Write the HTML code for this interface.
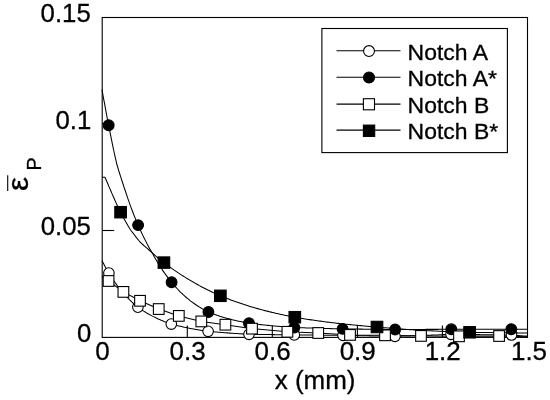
<!DOCTYPE html>
<html><head><meta charset="utf-8"><title>chart</title>
<style>
html,body{margin:0;padding:0;background:#fff;}
svg{display:block;}
text{font-family:"Liberation Sans",Arial,sans-serif;fill:#000;stroke:#000;stroke-width:0.3px;}
</style></head><body>
<svg width="550" height="400" viewBox="0 0 550 400">
<rect width="550" height="400" fill="#fff"/>

<rect x="102.2" y="17.5" width="425.3" height="319.9" fill="none" stroke="#000" stroke-width="1.1"/>
<line x1="187.3" y1="337.4" x2="187.3" y2="325.4" stroke="#000" stroke-width="1.1"/>
<line x1="272.3" y1="337.4" x2="272.3" y2="325.4" stroke="#000" stroke-width="1.1"/>
<line x1="357.4" y1="337.4" x2="357.4" y2="325.4" stroke="#000" stroke-width="1.1"/>
<line x1="442.4" y1="337.4" x2="442.4" y2="325.4" stroke="#000" stroke-width="1.1"/>
<line x1="102.2" y1="230.5" x2="114.2" y2="230.5" stroke="#000" stroke-width="1.1"/>
<line x1="102.2" y1="123.8" x2="114.2" y2="123.8" stroke="#000" stroke-width="1.1"/>
<g fill="none" stroke="#000" stroke-width="1.05" stroke-linejoin="round">
<path d="M102.0,260.70L103.4,263.36L104.8,265.92L106.1,268.40L107.5,270.79L108.9,273.10L110.4,275.47L111.8,277.75L113.2,279.94L114.7,282.06L116.2,284.10L117.6,286.07L119.1,287.97L120.5,289.80L122.0,291.56L123.4,293.26L124.9,294.89L126.3,296.47L127.8,297.99L129.2,299.46L130.7,300.87L132.1,302.23L133.6,303.54L135.0,304.81L136.4,306.03L137.9,307.20L139.4,308.23L140.8,309.23L142.3,310.20L143.7,311.14L145.2,312.04L146.6,312.92L148.1,313.76L149.5,314.58L151.0,315.37L152.4,316.13L153.9,316.87L155.3,317.59L156.8,318.28L158.2,318.95L159.7,319.59L161.1,320.22L162.6,320.82L164.0,321.41L165.5,321.97L166.9,322.52L168.4,323.05L169.8,323.56L171.3,324.05L172.8,324.45L174.2,324.83L175.7,325.21L177.2,325.57L178.7,325.93L180.1,326.27L181.6,326.61L183.1,326.94L184.5,327.26L186.0,327.56L187.5,327.86L189.0,328.16L190.4,328.44L191.9,328.72L193.4,328.99L194.9,329.25L196.3,329.50L197.8,329.75L199.3,329.99L200.7,330.22L202.2,330.45L203.7,330.67L205.2,330.89L206.6,331.10L208.1,331.30L209.6,331.44L211.0,331.57L212.5,331.70L213.9,331.83L215.4,331.96L216.9,332.09L218.3,332.21L219.8,332.33L221.2,332.45L222.7,332.56L224.2,332.67L225.6,332.79L227.1,332.89L228.6,333.00L230.0,333.11L231.5,333.21L232.9,333.31L234.4,333.41L235.9,333.51L237.3,333.60L238.8,333.69L240.2,333.79L241.7,333.88L243.2,333.96L244.6,334.05L246.1,334.14L247.5,334.22L249.0,334.30L250.5,334.32L251.9,334.34L253.4,334.36L254.8,334.38L256.3,334.40L257.8,334.42L259.2,334.44L260.7,334.46L262.2,334.48L263.6,334.50L265.1,334.52L266.5,334.54L268.0,334.56L269.5,334.58L270.9,334.60L272.4,334.62L273.8,334.64L275.3,334.66L276.8,334.68L278.2,334.70L279.7,334.72L281.1,334.74L282.6,334.75L284.1,334.77L285.5,334.79L287.0,334.81L288.5,334.83L289.9,334.85L291.4,334.86L292.8,334.88L294.3,334.90L295.8,334.91L297.3,334.93L298.7,334.94L300.2,334.95L301.7,334.96L303.2,334.98L304.6,334.99L306.1,335.00L307.6,335.01L309.1,335.03L310.5,335.04L312.0,335.05L313.5,335.06L315.0,335.08L316.4,335.09L317.9,335.10L319.4,335.11L320.9,335.12L322.3,335.14L323.8,335.15L325.3,335.16L326.8,335.17L328.2,335.18L329.7,335.20L331.2,335.21L332.7,335.22L334.1,335.23L335.6,335.24L337.1,335.25L338.6,335.27L340.0,335.28L341.5,335.29L343.0,335.30L344.5,335.33L346.0,335.37L347.5,335.40L348.9,335.43L350.4,335.47L351.9,335.50L353.4,335.53L354.9,335.56L356.4,335.59L357.9,335.62L359.3,335.66L360.8,335.69L362.3,335.72L363.8,335.75L365.3,335.77L366.8,335.80L368.3,335.83L369.7,335.86L371.2,335.89L372.7,335.92L374.2,335.94L375.7,335.97L377.2,336.00L378.7,336.03L380.1,336.05L381.6,336.08L383.1,336.10L384.6,336.13L386.1,336.15L387.6,336.18L389.1,336.20L390.5,336.23L392.0,336.25L393.5,336.28L395.0,336.30L396.5,336.26L397.9,336.22L399.4,336.18L400.9,336.15L402.4,336.10L403.8,336.06L405.3,336.02L406.8,335.98L408.3,335.94L409.7,335.89L411.2,335.85L412.7,335.80L414.2,335.76L415.6,335.71L417.1,335.66L418.6,335.61L420.1,335.56L421.5,335.51L423.0,335.46L424.5,335.41L425.9,335.36L427.4,335.30L428.9,335.25L430.4,335.19L431.8,335.13L433.3,335.08L434.8,335.02L436.3,334.96L437.7,334.90L439.2,334.83L440.7,334.77L442.2,334.71L443.6,334.64L445.1,334.58L446.6,334.51L448.1,334.44L449.5,334.37L451.0,334.30L452.5,334.32L454.0,334.34L455.4,334.36L456.9,334.37L458.4,334.39L459.9,334.41L461.3,334.43L462.8,334.45L464.3,334.46L465.8,334.48L467.2,334.50L468.7,334.52L470.2,334.54L471.7,334.55L473.1,334.57L474.6,334.59L476.1,334.61L477.6,334.62L479.0,334.64L480.5,334.66L482.0,334.67L483.5,334.69L484.9,334.71L486.4,334.73L487.9,334.74L489.4,334.76L490.8,334.78L492.3,334.79L493.8,334.81L495.3,334.82L496.7,334.84L498.2,334.86L499.7,334.87L501.2,334.89L502.6,334.91L504.1,334.92L505.6,334.94L507.1,334.95L508.5,334.97L510.0,334.98L511.5,335.00L513.0,335.13L514.4,335.26L515.9,335.38L517.3,335.50L518.8,335.61L520.2,335.72L521.7,335.82L523.1,335.92L524.6,336.02L526.0,336.11L527.5,336.20"/>
<path d="M102.0,89.50L103.3,97.10L104.7,104.47L106.0,111.60L107.3,118.51L108.7,125.20L110.0,132.04L111.3,138.66L112.6,145.06L113.9,151.24L115.2,157.22L116.5,163.00L117.9,167.83L119.3,172.53L120.8,177.09L122.2,181.52L123.6,185.82L125.0,190.00L126.5,194.41L127.9,198.69L129.4,202.83L130.8,206.84L132.3,210.73L133.7,214.49L135.2,218.14L136.6,221.68L138.1,225.10L139.6,228.46L141.1,231.71L142.6,234.86L144.1,237.91L145.6,240.87L147.0,243.73L148.5,246.50L150.0,249.18L151.5,251.78L153.0,254.30L154.4,256.92L155.9,259.45L157.3,261.89L158.7,264.25L160.2,266.53L161.6,268.73L163.0,270.86L164.4,272.92L165.9,274.91L167.3,276.82L168.7,278.68L170.2,280.47L171.6,282.20L173.1,284.00L174.5,285.73L176.0,287.39L177.5,289.00L179.0,290.55L180.4,292.04L181.9,293.48L183.4,294.86L184.8,296.20L186.3,297.48L187.8,298.72L189.3,299.91L190.7,301.06L192.2,302.17L193.7,303.24L195.2,304.27L196.6,305.26L198.1,306.22L199.6,307.14L201.0,308.03L202.5,308.88L204.0,309.70L205.5,310.50L206.9,311.26L208.4,312.00L209.8,312.59L211.3,313.15L212.8,313.71L214.2,314.24L215.7,314.76L217.1,315.26L218.6,315.75L220.0,316.22L221.5,316.68L222.9,317.13L224.3,317.56L225.8,317.98L227.2,318.38L228.7,318.78L230.2,319.16L231.6,319.53L233.1,319.89L234.5,320.24L235.9,320.58L237.4,320.91L238.8,321.22L240.3,321.53L241.8,321.83L243.2,322.12L244.7,322.40L246.1,322.68L247.6,322.94L249.0,323.20L250.5,323.39L251.9,323.58L253.4,323.77L254.8,323.95L256.3,324.12L257.8,324.29L259.2,324.46L260.7,324.63L262.2,324.79L263.6,324.94L265.1,325.09L266.5,325.24L268.0,325.39L269.5,325.53L270.9,325.67L272.4,325.81L273.8,325.94L275.3,326.07L276.8,326.19L278.2,326.32L279.7,326.44L281.1,326.56L282.6,326.67L284.1,326.78L285.5,326.89L287.0,327.00L288.5,327.10L289.9,327.21L291.4,327.31L292.8,327.40L294.3,327.50L295.8,327.55L297.2,327.60L298.7,327.65L300.2,327.70L301.6,327.75L303.1,327.80L304.5,327.85L306.0,327.90L307.5,327.94L308.9,327.99L310.4,328.04L311.9,328.08L313.3,328.12L314.8,328.17L316.3,328.21L317.7,328.25L319.2,328.30L320.6,328.34L322.1,328.38L323.6,328.42L325.0,328.46L326.5,328.50L328.0,328.54L329.4,328.58L330.9,328.61L332.4,328.65L333.8,328.69L335.3,328.72L336.7,328.76L338.2,328.80L339.7,328.83L341.1,328.87L342.6,328.90L344.1,328.92L345.6,328.94L347.1,328.96L348.6,328.98L350.1,329.00L351.6,329.01L353.1,329.03L354.6,329.05L356.1,329.07L357.6,329.09L359.1,329.11L360.6,329.12L362.1,329.14L363.6,329.16L365.1,329.18L366.6,329.19L368.1,329.21L369.6,329.23L371.1,329.25L372.6,329.26L374.1,329.28L375.6,329.30L377.1,329.31L378.6,329.33L380.1,329.34L381.6,329.36L383.1,329.38L384.6,329.39L386.1,329.41L387.6,329.42L389.1,329.44L390.6,329.45L392.1,329.47L393.6,329.48L395.1,329.50L396.6,329.49L398.1,329.49L399.5,329.48L401.0,329.48L402.5,329.47L404.0,329.47L405.5,329.46L406.9,329.46L408.4,329.45L409.9,329.45L411.4,329.44L412.8,329.44L414.3,329.43L415.8,329.43L417.3,329.42L418.8,329.42L420.2,329.41L421.7,329.41L423.2,329.40L424.7,329.40L426.2,329.39L427.6,329.39L429.1,329.38L430.6,329.38L432.1,329.37L433.6,329.37L435.0,329.36L436.5,329.35L438.0,329.35L439.5,329.34L440.9,329.34L442.4,329.33L443.9,329.33L445.4,329.32L446.9,329.32L448.3,329.31L449.8,329.31L451.3,329.30L452.8,329.30L454.3,329.30L455.8,329.29L457.3,329.29L458.8,329.29L460.3,329.29L461.8,329.28L463.3,329.28L464.8,329.28L466.3,329.28L467.8,329.27L469.3,329.27L470.8,329.27L472.3,329.27L473.8,329.26L475.3,329.26L476.8,329.26L478.3,329.26L479.8,329.25L481.3,329.25L482.8,329.25L484.3,329.25L485.8,329.24L487.3,329.24L488.8,329.24L490.3,329.24L491.8,329.23L493.3,329.23L494.8,329.23L496.3,329.23L497.8,329.22L499.3,329.22L500.8,329.22L502.3,329.22L503.8,329.21L505.3,329.21L506.8,329.21L508.3,329.21L509.8,329.20L511.3,329.20L512.8,329.21L514.2,329.22L515.7,329.23L517.2,329.24L518.7,329.25L520.1,329.26L521.6,329.26L523.1,329.27L524.6,329.28L526.0,329.29L527.5,329.30"/>
<path d="M102.0,276.50L108.5,281.00L123.4,291.90L140.0,300.80L158.8,309.05L178.8,315.90L201.3,321.40L225.4,324.70L252.0,328.65L287.4,331.80L318.2,333.00L350.0,334.90L385.0,335.30L421.0,335.90L459.0,336.30L499.1,336.00L527.5,336.70"/>
<path d="M102,177.2L105.0,177.20L106.4,180.50L107.8,183.74L109.1,186.90L110.5,190.00L111.9,193.40L113.4,196.73L114.8,199.97L116.2,203.14L117.6,206.23L119.1,209.25L120.5,212.20L121.9,214.75L123.2,217.26L124.6,219.70L125.9,222.10L127.3,224.45L128.6,226.75L130.0,229.00L131.4,230.96L132.9,232.89L134.3,234.78L135.7,236.64L137.1,238.46L138.6,240.25L140.0,242.00L141.5,243.38L143.0,244.75L144.5,246.09L146.0,247.41L147.5,248.72L149.0,250.00L150.5,251.35L152.0,252.69L153.5,254.00L155.0,255.29L156.4,256.55L157.9,257.80L159.4,259.03L160.9,260.24L162.4,261.43L163.9,262.60L165.4,263.73L166.9,264.85L168.3,265.94L169.8,267.02L171.3,268.08L172.8,269.13L174.2,270.16L175.7,271.17L177.2,272.17L178.7,273.15L180.1,274.12L181.6,275.07L183.1,276.00L184.6,276.92L186.0,277.83L187.5,278.72L189.0,279.60L190.5,280.51L192.0,281.40L193.5,282.28L195.0,283.14L196.5,283.99L198.0,284.82L199.4,285.64L200.9,286.45L202.4,287.24L203.9,288.02L205.4,288.79L206.9,289.54L208.4,290.29L209.9,291.02L211.4,291.73L212.9,292.44L214.4,293.13L215.9,293.82L217.4,294.49L218.9,295.15L220.3,295.80L221.8,296.42L223.3,297.03L224.8,297.63L226.3,298.21L227.8,298.79L229.3,299.36L230.8,299.93L232.3,300.48L233.8,301.02L235.2,301.56L236.7,302.08L238.2,302.60L239.7,303.11L241.2,303.61L242.7,304.10L244.2,304.59L245.7,305.07L247.2,305.54L248.6,306.00L250.1,306.46L251.6,306.90L253.1,307.34L254.6,307.78L256.1,308.21L257.6,308.63L259.1,309.04L260.6,309.45L262.0,309.85L263.5,310.24L265.0,310.63L266.5,311.01L268.0,311.38L269.5,311.75L271.0,312.12L272.5,312.47L274.0,312.83L275.4,313.17L276.9,313.51L278.4,313.85L279.9,314.18L281.4,314.50L282.9,314.82L284.4,315.14L285.9,315.45L287.4,315.75L288.8,316.05L290.3,316.34L291.8,316.63L293.3,316.92L294.8,317.20L296.3,317.46L297.8,317.72L299.3,317.97L300.8,318.22L302.3,318.47L303.8,318.71L305.3,318.95L306.8,319.18L308.3,319.41L309.7,319.64L311.2,319.86L312.7,320.08L314.2,320.30L315.7,320.52L317.2,320.73L318.7,320.93L320.2,321.14L321.7,321.34L323.2,321.54L324.7,321.73L326.2,321.93L327.7,322.12L329.2,322.30L330.7,322.49L332.2,322.67L333.7,322.85L335.2,323.02L336.6,323.20L338.1,323.37L339.6,323.53L341.1,323.70L342.6,323.86L344.1,324.02L345.6,324.18L347.1,324.34L348.6,324.49L350.1,324.64L351.6,324.79L353.1,324.94L354.6,325.08L356.1,325.22L357.6,325.36L359.1,325.50L360.6,325.64L362.1,325.77L363.5,325.90L365.0,326.03L366.5,326.16L368.0,326.28L369.5,326.41L371.0,326.53L372.5,326.65L374.0,326.77L375.5,326.89L377.0,327.00L378.5,327.15L380.0,327.29L381.5,327.43L383.0,327.57L384.5,327.71L386.0,327.84L387.5,327.97L388.9,328.10L390.4,328.22L391.9,328.35L393.4,328.47L394.9,328.58L396.4,328.70L397.9,328.81L399.4,328.93L400.9,329.03L402.4,329.14L403.9,329.25L405.4,329.35L406.9,329.45L408.4,329.55L409.9,329.65L411.4,329.74L412.8,329.83L414.3,329.93L415.8,330.02L417.3,330.10L418.8,330.19L420.3,330.27L421.8,330.36L423.3,330.44L424.8,330.52L426.3,330.60L427.8,330.67L429.3,330.75L430.8,330.82L432.3,330.89L433.8,330.96L435.2,331.03L436.7,331.10L438.2,331.17L439.7,331.23L441.2,331.30L442.7,331.36L444.2,331.42L445.7,331.48L447.2,331.54L448.7,331.60L450.2,331.65L451.7,331.71L453.2,331.77L454.7,331.82L456.2,331.87L457.7,331.92L459.1,331.97L460.6,332.02L462.1,332.07L463.6,332.12L465.1,332.17L466.6,332.21L468.1,332.26L469.6,332.30L471.1,332.32L472.6,332.34L474.1,332.36L475.5,332.38L477.0,332.41L478.5,332.43L480.0,332.45L481.5,332.47L483.0,332.49L484.4,332.51L485.9,332.53L487.4,332.54L488.9,332.56L490.4,332.58L491.9,332.60L493.4,332.62L494.8,332.64L496.3,332.66L497.8,332.67L499.3,332.69L500.8,332.71L502.3,332.73L503.7,332.74L505.2,332.76L506.7,332.78L508.2,332.80L509.7,332.81L511.2,332.83L512.7,332.85L514.1,332.86L515.6,332.88L517.1,332.89L518.6,332.91L520.1,332.92L521.6,332.94L523.0,332.96L524.5,332.97L526.0,332.99L527.5,333.00"/>
</g>
<g stroke="#000" stroke-width="1.1">
<circle cx="108.9" cy="273.1" r="5.3" fill="#fff"/>
<circle cx="137.9" cy="307.2" r="5.3" fill="#fff"/>
<circle cx="171.3" cy="324.05" r="5.3" fill="#fff"/>
<circle cx="208.1" cy="331.3" r="5.3" fill="#fff"/>
<circle cx="249" cy="334.3" r="5.3" fill="#fff"/>
<circle cx="294.3" cy="334.9" r="5.3" fill="#fff"/>
<circle cx="343" cy="335.3" r="5.3" fill="#fff"/>
<circle cx="395" cy="336.3" r="5.3" fill="#fff"/>
<circle cx="451" cy="334.3" r="5.3" fill="#fff"/>
<circle cx="511.5" cy="335.0" r="5.3" fill="#fff"/>
<circle cx="108.65" cy="125.2" r="5.4" fill="#000"/>
<circle cx="138.1" cy="225.1" r="5.4" fill="#000"/>
<circle cx="171.6" cy="282.2" r="5.4" fill="#000"/>
<circle cx="208.4" cy="312" r="5.4" fill="#000"/>
<circle cx="249" cy="323.2" r="5.4" fill="#000"/>
<circle cx="294.3" cy="327.5" r="5.4" fill="#000"/>
<circle cx="342.6" cy="328.9" r="5.4" fill="#000"/>
<circle cx="395.1" cy="329.5" r="5.4" fill="#000"/>
<circle cx="451.3" cy="329.3" r="5.4" fill="#000"/>
<circle cx="511.3" cy="329.2" r="5.4" fill="#000"/>
<rect x="103.20" y="275.65" width="10.7" height="10.7" fill="#fff"/>
<rect x="118.05" y="286.55" width="10.7" height="10.7" fill="#fff"/>
<rect x="134.65" y="295.45" width="10.7" height="10.7" fill="#fff"/>
<rect x="153.40" y="303.70" width="10.7" height="10.7" fill="#fff"/>
<rect x="173.45" y="310.55" width="10.7" height="10.7" fill="#fff"/>
<rect x="195.95" y="316.05" width="10.7" height="10.7" fill="#fff"/>
<rect x="220.05" y="319.35" width="10.7" height="10.7" fill="#fff"/>
<rect x="246.65" y="323.30" width="10.7" height="10.7" fill="#fff"/>
<rect x="282.05" y="326.45" width="10.7" height="10.7" fill="#fff"/>
<rect x="312.85" y="327.65" width="10.7" height="10.7" fill="#fff"/>
<rect x="344.65" y="329.55" width="10.7" height="10.7" fill="#fff"/>
<rect x="379.65" y="329.95" width="10.7" height="10.7" fill="#fff"/>
<rect x="415.65" y="330.55" width="10.7" height="10.7" fill="#fff"/>
<rect x="453.65" y="330.95" width="10.7" height="10.7" fill="#fff"/>
<rect x="493.75" y="330.65" width="10.7" height="10.7" fill="#fff"/>
<rect x="114.80" y="206.50" width="11.6" height="11.4" fill="#000"/>
<rect x="158.10" y="256.90" width="11.6" height="11.4" fill="#000"/>
<rect x="214.55" y="290.10" width="11.6" height="11.4" fill="#000"/>
<rect x="289.00" y="311.50" width="11.6" height="11.4" fill="#000"/>
<rect x="371.20" y="321.30" width="11.6" height="11.4" fill="#000"/>
<rect x="463.80" y="326.60" width="11.6" height="11.4" fill="#000"/>
</g>
<text transform="translate(102.5,360.2) scale(1,1.025)" font-size="26" text-anchor="middle">0</text>
<text transform="translate(187.6,360.2) scale(1,1.025)" font-size="26" text-anchor="middle">0.3</text>
<text transform="translate(272.6,360.2) scale(1,1.025)" font-size="26" text-anchor="middle">0.6</text>
<text transform="translate(357.7,360.2) scale(1,1.025)" font-size="26" text-anchor="middle">0.9</text>
<text transform="translate(442.7,360.2) scale(1,1.025)" font-size="26" text-anchor="middle">1.2</text>
<text transform="translate(529.0,359.9) scale(1,1.025)" font-size="26" text-anchor="middle">1.5</text>
<text transform="translate(91.3,342.1) scale(0.99,1.02)" font-size="26" text-anchor="end">0</text>
<text transform="translate(90.8,235.4) scale(0.99,1.02)" font-size="26" text-anchor="end">0.05</text>
<text transform="translate(91.3,129.2) scale(0.99,1.02)" font-size="26" text-anchor="end">0.1</text>
<text transform="translate(90.7,22.3) scale(0.99,1.02)" font-size="26" text-anchor="end">0.15</text>
<text x="315.1" y="389" font-size="26" text-anchor="middle">x (mm)</text>
<g transform="translate(27.7,191) rotate(-90)"><text transform="scale(1.09,1)" x="0" y="0" font-size="29">ε</text><text x="20.4" y="13.5" font-size="19.5">P</text><line x1="0" y1="-20" x2="15.8" y2="-20" stroke="#000" stroke-width="1.1"/></g>
<rect x="321.9" y="28.5" width="185.5" height="124.1" fill="#fff" stroke="#000" stroke-width="1.1"/>
<line x1="336.5" y1="50.8" x2="400.5" y2="50.8" stroke="#000" stroke-width="1.1"/>
<circle cx="369" cy="51.1" r="5.45" fill="#fff" stroke="#000" stroke-width="1.1"/>
<text transform="translate(407.6,60.2) scale(1.078,1)" font-size="21.3">Notch A</text>
<line x1="336.5" y1="77.3" x2="400.5" y2="77.3" stroke="#000" stroke-width="1.1"/>
<circle cx="369" cy="77.5" r="5.5" fill="#000" stroke="#000" stroke-width="1.1"/>
<text transform="translate(407.6,86.2) scale(1.078,1)" font-size="21.3">Notch A*</text>
<line x1="336.5" y1="104.1" x2="400.5" y2="104.1" stroke="#000" stroke-width="1.1"/>
<rect x="363.4" y="98.7" width="11.1" height="11.1" fill="#fff" stroke="#000" stroke-width="1.1"/>
<text transform="translate(407.6,113.4) scale(1.078,1)" font-size="21.3">Notch B</text>
<line x1="336.5" y1="130.1" x2="400.5" y2="130.1" stroke="#000" stroke-width="1.1"/>
<rect x="363.4" y="125.1" width="11.3" height="11.3" fill="#000" stroke="#000" stroke-width="1.1"/>
<text transform="translate(407.6,139.1) scale(1.078,1)" font-size="21.3">Notch B*</text>
</svg></body></html>
